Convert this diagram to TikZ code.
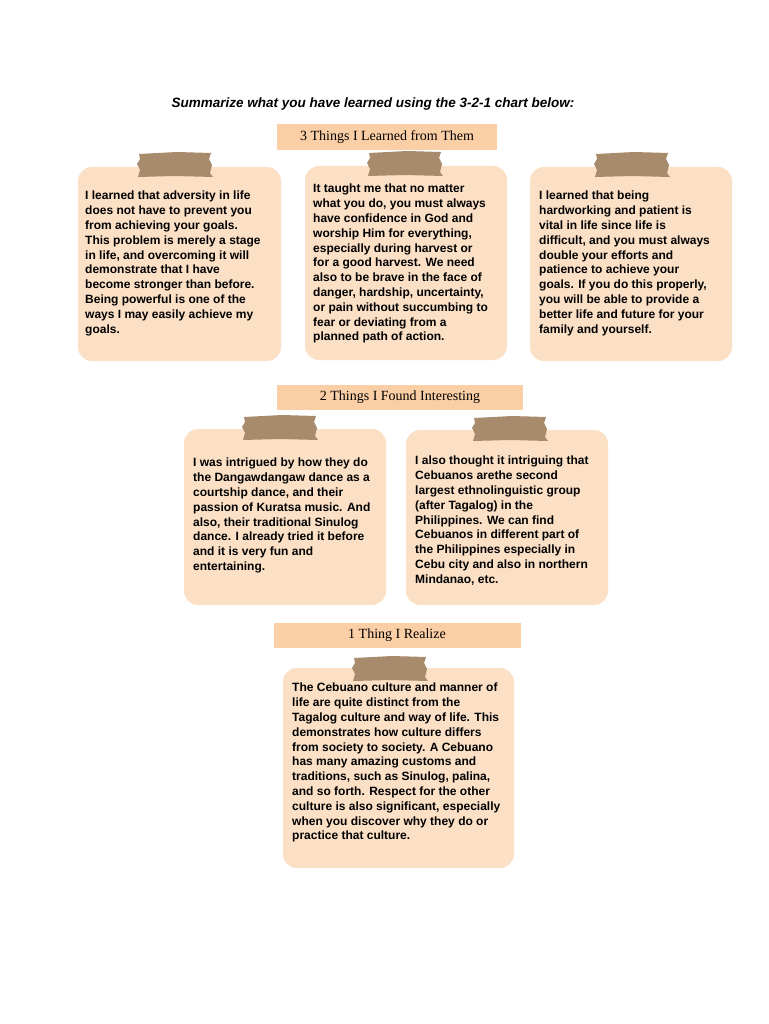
\documentclass[tikz,border=0pt]{standalone}
\usepackage{fontspec}
\setmainfont{Liberation Serif}
\newfontfamily\arialf{Liberation Sans}
\begin{document}
\begin{tikzpicture}[x=1pt,y=-1pt]
\definecolor{hdr}{HTML}{FBCFA5}
\definecolor{card}{HTML}{FCE0C6}
\definecolor{tape}{HTML}{A88A6C}
\tikzset{
 hdrbox/.style={fill=hdr,draw=none},
 cardbox/.style={fill=card,draw=none,rounded corners=14pt},
 tapeshape/.style={fill=tape,draw=none},
 hdrtext/.style={font=\fontsize{14}{16}\selectfont},
 cardtext/.style={anchor=north west,align=left,inner sep=0pt,font=\arialf\bfseries\fontsize{12}{14.8}\selectfont},
}
\useasboundingbox (0,0) rectangle (768,1024);
\fill[white] (0,0) rectangle (768,1024);
\node (title) at (373,104) {\arialf\bfseries\itshape\fontsize{13.5}{16}\selectfont Summarize what you have learned using the 3-2-1 chart below:};
% headers
\fill[hdrbox] (277,124) rectangle (497,150);
\node[hdrtext] (h1) at (387,137) {3 Things I Learned from Them};
\fill[hdrbox] (277,385) rectangle (523,410);
\node[hdrtext] (h2) at (400,397.5) {2 Things I Found Interesting};
\fill[hdrbox] (274,623) rectangle (521,648);
\node[hdrtext] (h3) at (397,635.5) {1 Thing I Realize};
% cards
\fill[cardbox] (78,167) rectangle (281,361);
\fill[cardbox] (305,166) rectangle (507,360);
\fill[cardbox] (530,167) rectangle (732,361);
\fill[cardbox] (184,429) rectangle (386,605);
\fill[cardbox] (406,430) rectangle (608,605);
\fill[cardbox] (283,668) rectangle (514,868);
% tapes
\foreach \x/\y in {137/153, 367/152, 594/153, 242/416, 472/417, 352/657}{
 \fill[tapeshape] (\x+2,\y+1) -- (\x+40,\y-1) -- (\x+74,\y) -- (\x+72,\y+6) -- (\x+75,\y+12) -- (\x+73,\y+20) -- (\x+76,\y+24) -- (\x+38,\y+23) -- (\x+1,\y+24) -- (\x+3,\y+17) -- (\x,\y+11) -- (\x+3,\y+6) -- cycle;
}
\node[cardtext] (t1) at (85,191) {I learned that adversity in life\\does not have to prevent you\\from achieving your goals.\\This problem is merely a stage\\in life, and overcoming it will\\demonstrate that I have\\become stronger than before.\\Being powerful is one of the\\ways I may easily achieve my\\goals.};
\node[cardtext] (t2) at (313,184) {It taught me that no matter\\what you do, you must always\\have confidence in God and\\worship Him for everything,\\especially during harvest or\\for a good harvest. We need\\also to be brave in the face of\\danger, hardship, uncertainty,\\or pain without succumbing to\\fear or deviating from a\\planned path of action.};
\node[cardtext] (t3) at (539,191) {I learned that being\\hardworking and patient is\\vital in life since life is\\difficult, and you must always\\double your efforts and\\patience to achieve your\\goals. If you do this properly,\\you will be able to provide a\\better life and future for your\\family and yourself.};
\node[cardtext] (t4) at (193,458) {I was intrigued by how they do\\the Dangawdangaw dance as a\\courtship dance, and their\\passion of Kuratsa music. And\\also, their traditional Sinulog\\dance. I already tried it before\\and it is very fun and\\entertaining.};
\node[cardtext] (t5) at (415,456) {I also thought it intriguing that\\Cebuanos arethe second\\largest ethnolinguistic group\\(after Tagalog) in the\\Philippines. We can find\\Cebuanos in different part of\\the Philippines especially in\\Cebu city and also in northern\\Mindanao, etc.};
\node[cardtext] (t6) at (292,683) {The Cebuano culture and manner of\\life are quite distinct from the\\Tagalog culture and way of life. This\\demonstrates how culture differs\\from society to society. A Cebuano\\has many amazing customs and\\traditions, such as Sinulog, palina,\\and so forth. Respect for the other\\culture is also significant, especially\\when you discover why they do or\\practice that culture.};
\end{tikzpicture}
\end{document}
